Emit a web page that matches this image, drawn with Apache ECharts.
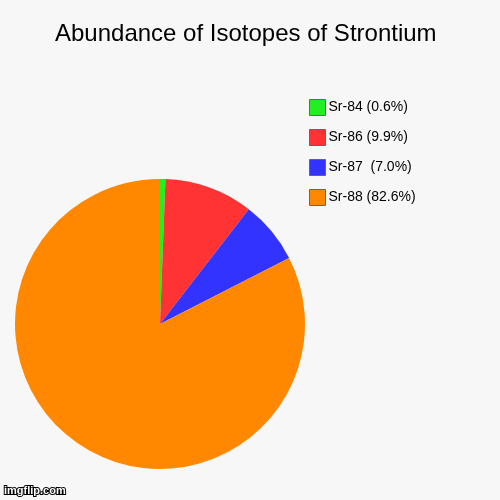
<!DOCTYPE html>
<html><head><meta charset="utf-8">
<script src="https://cdn.jsdelivr.net/npm/echarts@6/dist/echarts.min.js"></script>
<style>html,body{margin:0;padding:0;background:#f7f7f7}#c{width:500px;height:500px}</style>
</head><body><div id="c"></div>
<script>
var isotopes = ['Sr-84', 'Sr-86', 'Sr-87', 'Sr-88'];
var abundance = [0.6, 9.9, 7.0, 82.6];
var legendLabels = ['Sr-84 (0.6%)', 'Sr-86 (9.9%)', 'Sr-87  (7.0%)', 'Sr-88 (82.6%)'];
var colors = ['#22ee22', '#ff3333', '#3333ff', '#ff8800'];

var chart = echarts.init(document.getElementById('c'));
chart.setOption({
  backgroundColor: '#f7f7f7',
  animation: false,
  title: {
    text: 'Abundance of Isotopes of Strontium',
    left: 50, top: 17,
    textStyle: { fontFamily: 'Liberation Sans, Arial, sans-serif', fontSize: 24, fontWeight: 'normal', color: '#000' }
  },
  legend: {
    orient: 'vertical', left: 309, top: 99,
    padding: 0,
    itemWidth: 16, itemHeight: 16, itemGap: 13,
    icon: 'rect',
    selectedMode: false,
    data: isotopes,
    formatter: function (n) { return legendLabels[isotopes.indexOf(n)]; },
    itemStyle: { borderColor: '#666', borderWidth: 1 },
    textStyle: { fontFamily: 'Liberation Sans, Arial, sans-serif', fontSize: 14, color: '#000', padding: [0, 0, 0, -2] }
  },
  series: [{
    type: 'pie',
    center: [160, 324],
    radius: 145,
    startAngle: 90,
    clockwise: true,
    silent: true,
    label: { show: false },
    labelLine: { show: false },
    itemStyle: { borderWidth: 0 },
    data: isotopes.map(function (n, i) { return { name: n, value: abundance[i], itemStyle: { color: colors[i] } }; })
  }],
  graphic: [{
    type: 'text', left: 3, top: 484,
    style: { text: 'imgflip.com', fill: '#fff', stroke: '#000', lineWidth: 2, font: 'bold 11px Liberation Sans, Arial, sans-serif' }
  }]
});
</script></body></html>
